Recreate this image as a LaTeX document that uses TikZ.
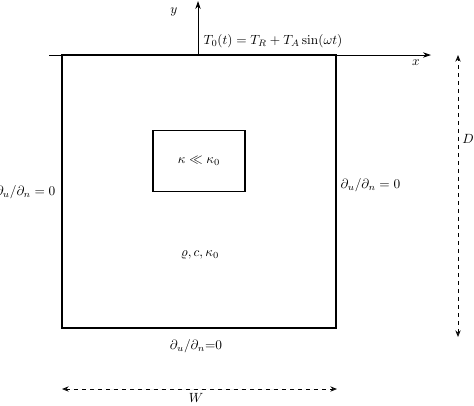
\documentclass[tikz,border=0pt]{standalone}
\usetikzlibrary{arrows.meta}
\usetikzlibrary{positioning}
\tikzset{
axis/.style={ % coordinate axes with filled heads
semithick,
-{Stealth[length=6pt,width=4pt]}},
wall/.style={ % boundary of the domain
thick},
dimline/.style={ % dashed measuring arrows
semithick,
dashed,
{Stealth[open,length=5pt,width=4pt]}-{Stealth[open,length=5pt,width=4pt]}},
inclusion/.style={ % the small block inside
draw,
thick,
minimum width=69pt,
minimum height=45.8pt}}

\begin{document}
\begin{tikzpicture}[x=0.75pt,y=-0.75pt]
\useasboundingbox (0,0) rectangle (474,405);
% domain and axes
\coordinate (O) at (198,55);
\coordinate (xtail) at (49,55);
\coordinate (xtip) at (431,55);
\coordinate (ytip) at (198,1);
\coordinate (nw) at (62,55);
\coordinate (se) at (336,328);
\draw[wall] (nw) rectangle (se);
\draw[axis] (xtail) -- (xtip);
\draw[axis] (O) -- (ytip);
\node (xlab) at (416,63) {$x$};
\node (ylab) at (174,12) {$y$};
\node[anchor=south west] (top) at (199,53) {$T_0(t) = T_R + T_A\sin(\omega t)$};
% inside
\node[inclusion] (incl) at (199,161) {$\kappa \ll \kappa_0$};
\node (bulk) at (200,255) {$\varrho, c, \kappa_0$};
% boundary conditions
\node[anchor=east] (left) at (60,192) {$\partial_u/\partial_n = 0$};
\node[anchor=west] (right) at (336,185) {$\partial_u/\partial_n = 0$};
\node (bottom) at (196,346) {$\partial_u/\partial_n{=}0$};
% sizes
\coordinate (Dtop) at (458,55);
\coordinate (Dbot) at (458,337);
\draw[dimline] (Dbot) -- (Dtop);
\node (dlab) at (468,139) {$D$};
\coordinate (Wleft) at (62,389);
\coordinate (Wright) at (337,389);
\draw[dimline] (Wleft) -- (Wright);
\node (wlab) at (196,398) {$W$};
\end{tikzpicture}
\end{document}
